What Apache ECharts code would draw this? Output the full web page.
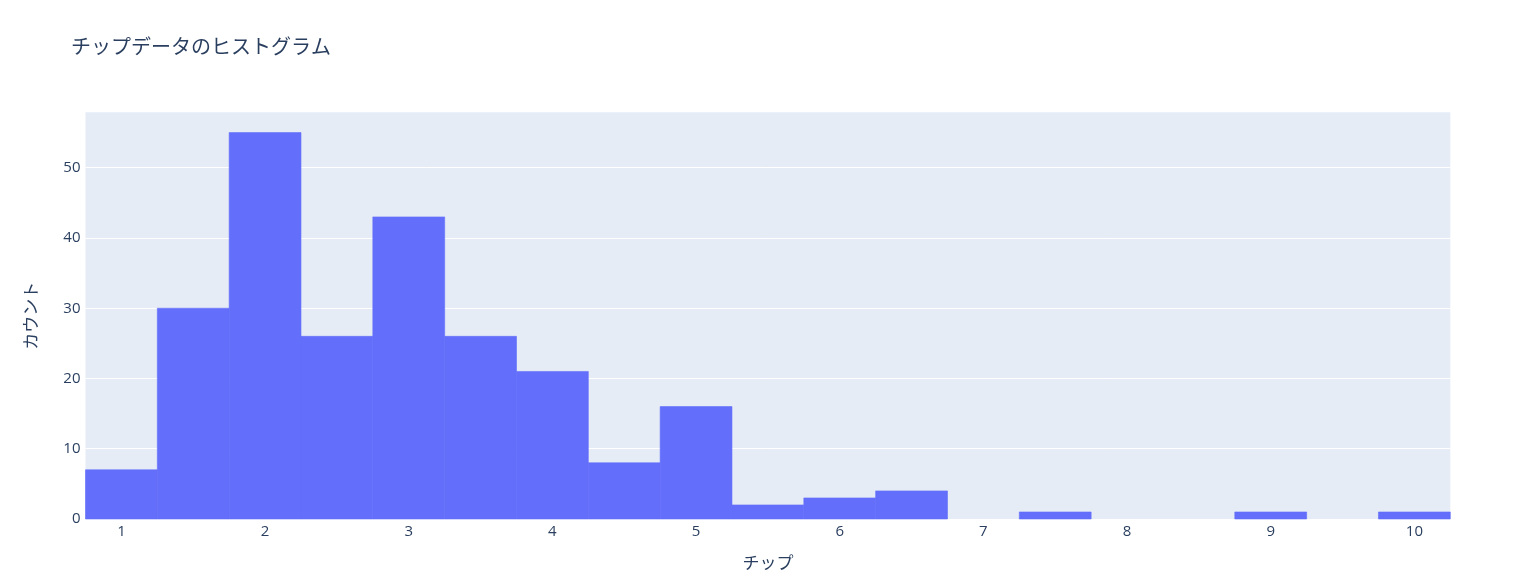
<!DOCTYPE html>
<html>
<head>
<meta charset="utf-8">
<script src="https://cdn.jsdelivr.net/npm/echarts@6/dist/echarts.min.js"></script>
<style>
html,body{margin:0;padding:0;background:#fff;}
#chart{width:1536px;height:581px;}
</style>
</head>
<body>
<div id="chart"></div>
<script>
const binStart = [0.75, 1.25, 1.75, 2.25, 2.75, 3.25, 3.75, 4.25, 4.75, 5.25, 5.75, 6.25, 6.75, 7.25, 7.75, 8.25, 8.75, 9.25, 9.75];
const binEnd   = [1.25, 1.75, 2.25, 2.75, 3.25, 3.75, 4.25, 4.75, 5.25, 5.75, 6.25, 6.75, 7.25, 7.75, 8.25, 8.75, 9.25, 9.75, 10.25];
const counts   = [7, 30, 55, 26, 43, 26, 21, 8, 16, 2, 3, 4, 0, 1, 0, 0, 1, 0, 1];
const xTicks   = [1, 2, 3, 4, 5, 6, 7, 8, 9, 10];
const titleText = 'チップデータのヒストグラム';
const xTitle = 'チップ';
const yTitle = 'カウント';

const FONT = '"Open Sans", "Noto Sans CJK JP", sans-serif';
const TXT = '#2a3f5f';

const data = binStart.map((s, i) => [s, binEnd[i], counts[i]]);

const chart = echarts.init(document.getElementById('chart'), null, {renderer: 'canvas'});
chart.setOption({
  animation: false,
  backgroundColor: '#ffffff',
  title: {
    text: titleText,
    left: 66,
    top: 33,
    textStyle: {fontFamily: FONT, fontSize: 20, fontWeight: 'normal', color: TXT}
  },
  grid: {
    left: 85.5, right: 85.7, top: 112.3, bottom: 62,
    show: true, backgroundColor: '#E5ECF6', borderWidth: 0
  },
  xAxis: {
    type: 'value',
    min: 0.75, max: 10.25,
    name: xTitle,
    nameLocation: 'middle',
    nameGap: 37,
    nameTextStyle: {fontFamily: FONT, fontSize: 17, color: TXT},
    axisLine: {show: false},
    axisTick: {show: false},
    splitLine: {show: false},
    axisLabel: {
      customValues: xTicks,
      fontFamily: FONT, fontSize: 15, color: TXT, margin: 5
    }
  },
  yAxis: {
    type: 'value',
    min: 0, max: 57.89, interval: 10,
    name: yTitle,
    nameLocation: 'middle',
    nameGap: 45,
    nameTextStyle: {fontFamily: FONT, fontSize: 17, color: TXT},
    axisLine: {show: false},
    axisTick: {show: false},
    splitLine: {show: true, showMaxLine: false, lineStyle: {color: '#ffffff', width: 1}},
    axisLabel: {
      fontFamily: FONT, fontSize: 15, color: TXT, margin: 5,
      showMaxLabel: false,
      formatter: v => (v % 10 === 0 ? String(v) : '')
    }
  },
  series: [{
    type: 'custom',
    data: data,
    encode: {x: [0, 1], y: 2},
    renderItem: function (params, api) {
      if (!(api.value(2) > 0)) return null;
      const p0 = api.coord([api.value(0), api.value(2)]);
      const p1 = api.coord([api.value(1), 0]);
      return {
        type: 'rect',
        shape: {x: p0[0], y: p0[1], width: p1[0] - p0[0], height: p1[1] - p0[1]},
        style: {fill: '#636EFA', stroke: '#636EFA', lineWidth: 0.6}
      };
    }
  }]
});
</script>
</body>
</html>
